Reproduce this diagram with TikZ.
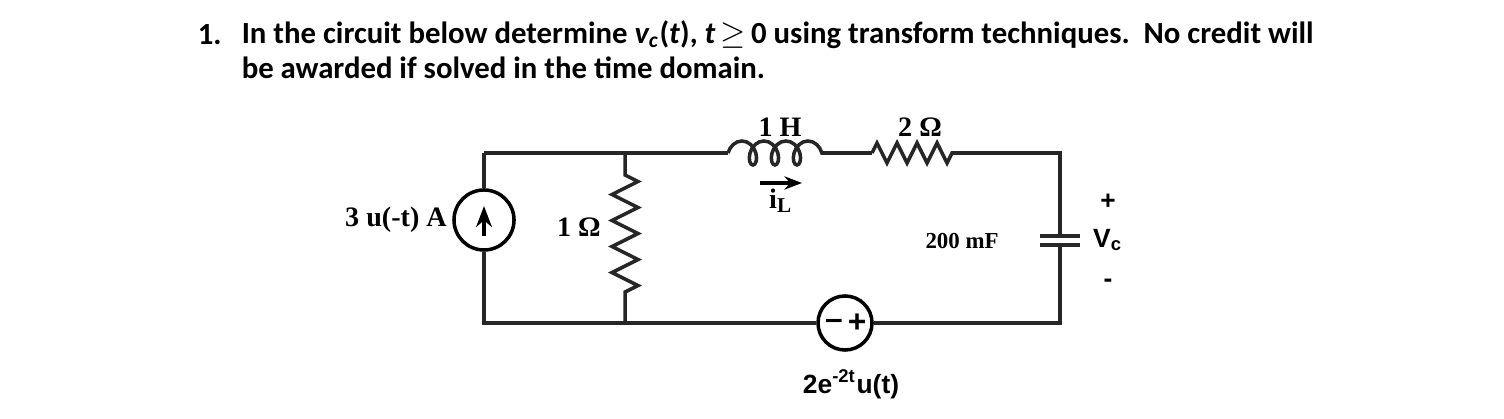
\documentclass[tikz,border=0pt]{standalone}
\usepackage{fontspec}
\setmainfont{Carlito}
\newfontfamily\tnr{Liberation Serif}
\newfontfamily\arl{Liberation Sans}
\usetikzlibrary{decorations.pathmorphing,arrows.meta}
\begin{document}
\begin{tikzpicture}[x=0.01cm,y=-0.01cm,line width=1pt,
  wire/.style={draw=black!85},
  hd/.style={anchor=west,font=\bfseries\fontsize{8.75}{11}\selectfont,inner sep=0},
  lbl/.style={font=\tnr\bfseries\fontsize{8}{9}\selectfont,inner sep=1pt},
  slbl/.style={font=\arl\bfseries\fontsize{7.5}{9}\selectfont,inner sep=1pt}]
\useasboundingbox (0,0) rectangle (1504,419);
\node[hd] (q) at (196,35) {1.};
\node[hd] (t1) at (240,35) {In the circuit below determine \textit{v\textsubscript{c}}(\textit{t}), \textit{t}\,$\geq$\,0 using transform techniques.\ \ No credit will};
\node[hd] (t2) at (240,68) {be awarded if solved in the time domain.};
\coordinate (tl) at (484,153); \coordinate (bl) at (484,323);
\coordinate (rt) at (625,153); \coordinate (rb) at (625,323);
\coordinate (l1) at (728,153); \coordinate (l2) at (832,153);
\coordinate (r1) at (872,153); \coordinate (r2) at (962,153);
\coordinate (tr) at (1060,153); \coordinate (br) at (1060,323);
\coordinate (c1) at (1060,236); \coordinate (c2) at (1060,245);
\node[draw,circle,minimum size=0.6cm,inner sep=0] (is) at (484,220) {};
\node[draw,circle,minimum size=0.54cm,inner sep=0] (vs) at (845,323) {};
\draw[wire] (tl) -- (is.north) (is.south) -- (bl) -- (vs.west) (vs.east) -- (br) -- (c2);
\draw[wire] (tl) -- (l1) (l2) -- (r1) (r2) -- (tr) -- (c1);
\draw[wire] (1040,236) -- (1080,236) (1040,245) -- (1080,245);
\draw[wire] (rt) -- (625,175) decorate[decoration={zigzag,segment length=0.26cm,amplitude=0.13cm}]{-- (625,295)} -- (rb);
\draw[wire] (r1) decorate[decoration={zigzag,segment length=0.2cm,amplitude=0.1cm}]{-- (r2)};
\draw[wire] (l1) decorate[decoration={coil,aspect=0.7,segment length=0.22cm,amplitude=0.12cm}]{-- (l2)};
\draw[-{Stealth[length=6pt]},line width=1pt] (484,236) -- (484,206);
\node[font=\arl\bfseries\fontsize{9}{9}\selectfont,inner sep=0] (vm) at (834,324) {\char"2013};
\node[font=\arl\bfseries\fontsize{9}{9}\selectfont,inner sep=0] (vp) at (857,323) {+};
\draw[-{Stealth[length=5pt]},line width=0.9pt] (760,183) -- (802,183);
\node[lbl] (iL) at (781,201) {i\textsubscript{L}};
\node[lbl] (lH) at (780,127) {1 H};
\node[lbl] (l2o) at (920,127) {2 Ω};
\node[lbl,anchor=east] (l1o) at (606,227) {1 Ω};
\node[lbl,anchor=east] (lI) at (452,220) {3 u(-t) A};
\node[font=\tnr\bfseries\fontsize{6.5}{8}\selectfont,anchor=east] (lC) at (1012,241) {200 mF};
\node[slbl] (pl) at (1108,202) {+};
\node[slbl] (vc) at (1108,240) {V\textsubscript{c}};
\node[slbl] (mi) at (1108,283) {-};
\node[slbl] (lv) at (851,384) {2e\textsuperscript{-2t}u(t)};
\end{tikzpicture}
\end{document}
